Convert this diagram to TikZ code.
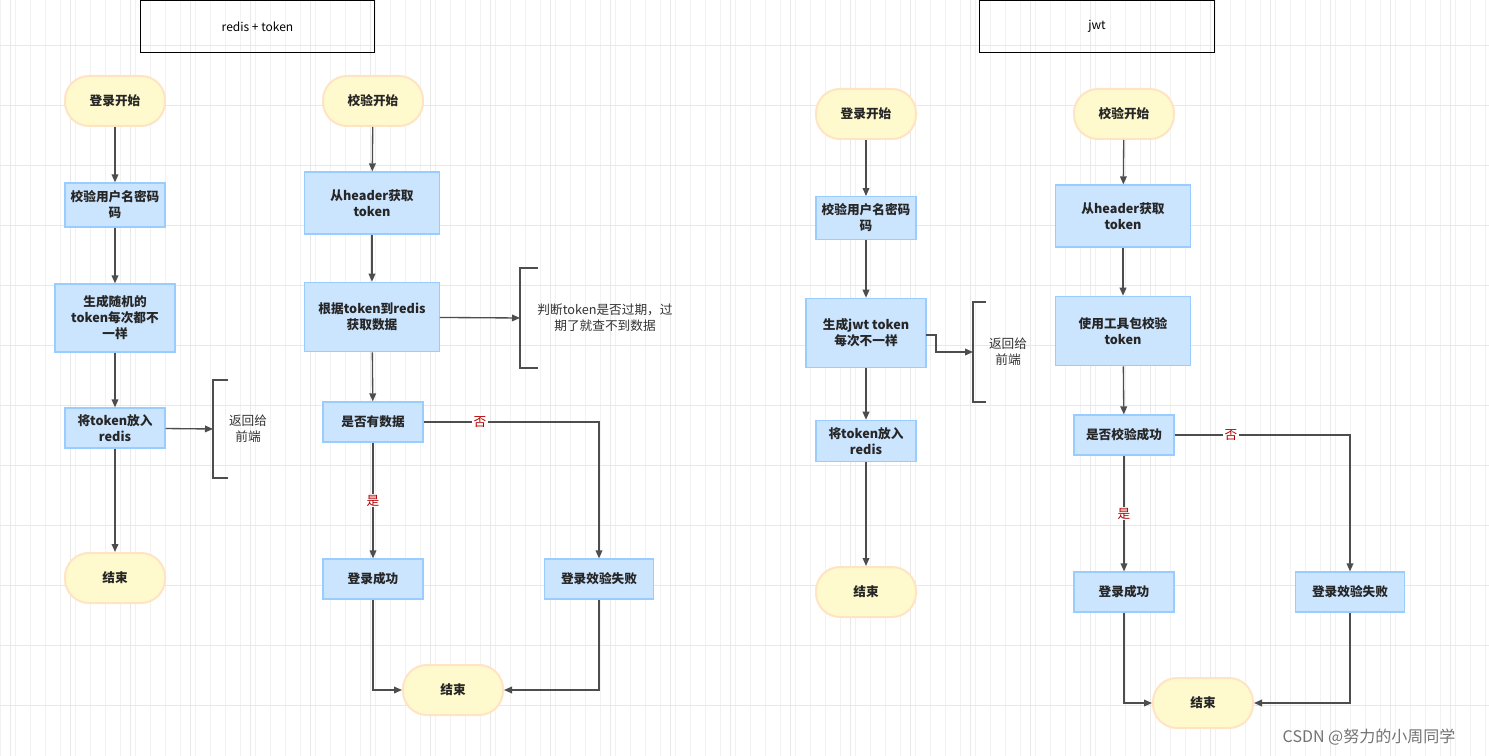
\documentclass[tikz,border=0pt]{standalone}
\usepackage{fontspec}
\setmainfont{Noto Sans CJK SC}
\usetikzlibrary{arrows.meta}
\definecolor{termfill}{HTML}{FFFACD}
\definecolor{termdraw}{HTML}{FFE4C4}
\definecolor{boxfill}{HTML}{CCE5FF}
\definecolor{boxdraw}{HTML}{99CCFF}
\definecolor{edge}{HTML}{4D4D4D}
\begin{document}
\begin{tikzpicture}[x=0.75pt,y=-0.75pt,
  base/.style={align=center,font=\fontsize{9.5}{12}\selectfont\bfseries,text=black!85,inner sep=0pt},
  term/.style={base,draw=termdraw,fill=termfill,line width=1.5pt,rounded corners=18pt,minimum width=75pt,minimum height=37.5pt},
  box/.style={base,draw=boxdraw,fill=boxfill,line width=0.9pt},
  b100/.style={box,minimum width=75pt,minimum height=30pt},
  title/.style={draw=black,line width=0.8pt,minimum width=176pt,minimum height=39.5pt,font=\fontsize{9}{11}\selectfont,inner sep=0pt},
  arr/.style={edge,line width=1pt,-{Triangle[length=6pt,width=5pt]}},
  brk/.style={draw=edge,line width=1pt},
  note/.style={align=center,font=\fontsize{9.5}{12}\selectfont,text=black!80,inner sep=0pt},
  lab/.style={font=\fontsize{9.5}{12}\selectfont,text=red!70!black,fill=white,inner sep=1pt}]
\useasboundingbox (0,0) rectangle (1489,756);
\fill[white] (0,0) rectangle (1489,756);
\draw[black!5,line width=0.5pt,step=15] (0,0) grid (1489,756);
\foreach \x in {10,70,...,1489} \draw[black!9,line width=0.6pt] (\x,0)--(\x,756);
\foreach \y in {45,105,...,756} \draw[black!9,line width=0.6pt] (0,\y)--(1489,\y);
% titles
\node[title] (t1) at (257.5,26.5) {redis + token};
\node[title] (t2) at (1097,26.5) {jwt};
% left-left
\node[term] (a1) at (115,101) {登录开始};
\node[b100,minimum height=33pt] (a2) at (115,205) {校验用户名密码\\码};
\node[box,minimum width=90pt,minimum height=51pt] (a3) at (115,318) {生成随机的\\token每次都不\\一样};
\node[b100] (a4) at (115,428) {将token放入\\redis};
\node[term] (a5) at (115,578) {结束};
\draw[arr] (a1)--(a2); \draw[arr] (a2)--(a3); \draw[arr] (a3)--(a4); \draw[arr] (a4)--(a5);
\coordinate (ab) at (213,429);
\draw[brk] (228,380)--(213,380)--(213,478)--(228,478);
\draw[arr] (a4)--(ab);
\node[note] (an) at (248,429) {返回给\\前端};
% left-right
\node[term] (b1) at (373,101) {校验开始};
\node[box,minimum width=101pt,minimum height=46.5pt] (b2) at (372,203) {从header获取\\token};
\node[box,minimum width=101pt,minimum height=52pt] (b3) at (372,317) {根据token到redis\\获取数据};
\node[b100] (b4) at (373,422) {是否有数据};
\node[b100] (b5) at (373,579) {登录成功};
\node[box,minimum width=82pt,minimum height=30pt] (b6) at (599,579) {登录效验失败};
\node[term] (b7) at (453,690) {结束};
\draw[arr] (b1)--(b2); \draw[arr] (b2)--(b3); \draw[arr] (b3)--(b4);
\draw[arr] (b4)--node[lab,pos=0.5]{是}(b5);
\draw[arr] (b4.east)--(599,422)--(b6.north);
\node[lab] at (480,422) {否};
\draw[arr] (b5.south)--(373,690)--(b7.west);
\draw[arr] (b6.south)--(599,690)--(b7.east);
\coordinate (bb) at (520,318);
\draw[brk] (538,268)--(520,268)--(520,368)--(538,368);
\draw[arr] (b3)--(bb);
\node[note] (bn) at (605,318) {判断token是否过期，过\\期了就查不到数据};
% right-left
\node[term] (c1) at (866,114) {登录开始};
\node[b100,minimum height=32pt] (c2) at (866,218) {校验用户名密码\\码};
\node[box,minimum width=90pt,minimum height=52pt] (c3) at (866,333) {生成jwt token\\每次不一样};
\node[b100,minimum height=31pt] (c4) at (866,441) {将token放入\\redis};
\node[term] (c5) at (866,592) {结束};
\draw[arr] (c1)--(c2); \draw[arr] (c2)--(c3); \draw[arr] (c3)--(c4); \draw[arr] (c4)--(c5);
\coordinate (cb) at (973,352);
\draw[brk] (986,302)--(973,302)--(973,402)--(986,402);
\draw[arr] (926,335)--(936,335)--(936,352)--(cb);
\node[note] (cn) at (1008,352) {返回给\\前端};
% right-right
\node[term] (d1) at (1124,114) {校验开始};
\node[box,minimum width=101pt,minimum height=46.5pt] (d2) at (1123,216) {从header获取\\token};
\node[box,minimum width=101pt,minimum height=52pt] (d3) at (1123,331) {使用工具包校验\\token};
\node[b100] (d4) at (1124,435) {是否校验成功};
\node[b100] (d5) at (1124,592) {登录成功};
\node[box,minimum width=82pt,minimum height=30pt] (d6) at (1350,592) {登录效验失败};
\node[term] (d7) at (1203,703) {结束};
\draw[arr] (d1)--(d2); \draw[arr] (d2)--(d3); \draw[arr] (d3)--(d4);
\draw[arr] (d4)--node[lab,pos=0.5]{是}(d5);
\draw[arr] (d4.east)--(1350,435)--(d6.north);
\node[lab] at (1231,435) {否};
\draw[arr] (d5.south)--(1124,703)--(d7.west);
\draw[arr] (d6.south)--(1350,703)--(d7.east);
\node[font=\fontsize{12}{14}\selectfont,text=black!55,inner sep=0pt] (wm) at (1369,737) {CSDN @努力的小周同学};
\end{tikzpicture}
\end{document}
